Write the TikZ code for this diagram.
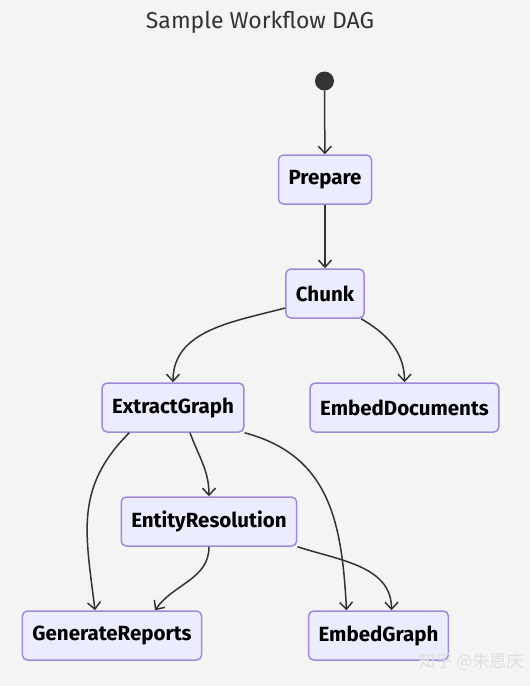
\documentclass[tikz,border=0pt]{standalone}
\usepackage{fontspec}
\setmainfont{Fira Sans}
\newfontfamily\cjkfont{Noto Sans CJK SC}
\usetikzlibrary{positioning,arrows.meta}
\definecolor{bgcol}{HTML}{F4F4F4}
\definecolor{boxfill}{HTML}{ECECFF}
\definecolor{boxline}{HTML}{A08AD8}
\definecolor{edgecol}{HTML}{333333}

\begin{document}
\begin{tikzpicture}[
  x=1pt, y=1pt,
  task/.style={draw=boxline, line width=1.5pt, rounded corners=5pt, fill=boxfill,
    minimum height=49pt, inner xsep=10pt, font=\fontsize{20.5}{22}\selectfont\bfseries, text=black},
  arr/.style={-{Straight Barb[length=7pt,width=13pt]}, line width=1.5pt, draw=edgecol}
]
\fill[bgcol] (0,0) rectangle (530,-686);
\useasboundingbox (0,0) rectangle (530,-686);

\node[font=\fontsize{23}{25}\selectfont, text=edgecol] (title) at (260,-22) {Sample Workflow DAG};

\node[circle, fill=edgecol, minimum size=19pt, inner sep=0pt] (start) at (324.5,-81) {};
\node[task] (prepare) at (325,-179.5) {Prepare};
\node[task] (chunk) at (325,-293.5) {Chunk};
\node[task] (extract) at (173,-407.5) {ExtractGraph};
\node[task] (embeddocs) at (404.5,-407.5) {EmbedDocuments};
\node[task] (entity) at (209,-521.5) {EntityResolution};
\node[task] (reports) at (112,-635.5) {GenerateReports};
\node[task] (embedgraph) at (378.5,-635.5) {EmbedGraph};

\node[font=\cjkfont\fontsize{17}{19}\selectfont, text=gray!25] (mark) at (471,-662) {知乎 @朱恩庆};

\draw[arr] (start) -- (prepare);
\draw[arr] (prepare) -- (chunk);
\draw[arr] (chunk.200) to[out=195, in=90] (extract.north);
\draw[arr] (chunk.-35) to[out=-30, in=90] (embeddocs.north);
\draw[arr] (extract.-150) to[out=-135, in=97, looseness=1.1] ([xshift=-17pt]reports.north);
\draw[arr] ([xshift=17pt]extract.south) to[out=-70, in=90] (entity.north);
\draw[arr] (extract.south east) to[out=-15, in=93, looseness=1.1] ([xshift=-32pt]embedgraph.north);
\draw[arr] (entity.south) to[out=-90, in=55] ([xshift=43pt]reports.north);
\draw[arr] (entity.south east) to[out=-18, in=90] ([xshift=13pt]embedgraph.north);
\end{tikzpicture}
\end{document}
